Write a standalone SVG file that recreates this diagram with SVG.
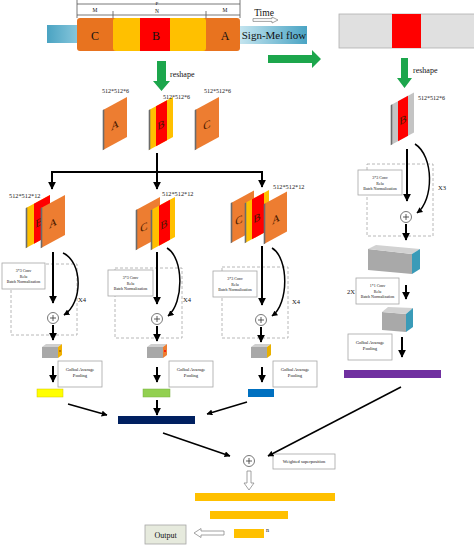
<svg xmlns="http://www.w3.org/2000/svg" width="474" height="545" viewBox="0 0 474 545">
<defs>
<style>
.t{font-family:"Liberation Serif","Times New Roman",serif;fill:#111}
.ln{stroke:#000;stroke-width:2;fill:none}
.th{stroke:#000;stroke-width:1.5;fill:none}
.box{fill:#fff;stroke:#a6a6a6;stroke-width:0.8}
.dash{fill:none;stroke:#a6a6a6;stroke-width:0.8;stroke-dasharray:3 2}
.or{fill:#ed7d31}
.ye{fill:#ffc000}
.re{fill:#ff0000}
.gy{fill:#c4c4c4}
.edge{stroke:#6b6b6b;stroke-width:1.6}
.plus{fill:#fff;stroke:#555;stroke-width:0.8}
.pl{stroke:#333;stroke-width:0.8}
.hollow{fill:#fff;stroke:#8c8c8c;stroke-width:0.8}
.green{fill:#1ca64c}
.let{font-family:"Liberation Serif","Times New Roman",serif;font-size:11px;fill:#4a1a00;text-anchor:middle}
.sm{font-size:4px;text-anchor:middle}
.gp{font-size:4.6px;text-anchor:middle}
.dim{font-size:6px}
</style>
<marker id="ah" viewBox="0 0 10 10" refX="9" refY="5" markerWidth="4" markerHeight="4" orient="auto"><path d="M0,0 L10,5 L0,10 z" fill="#000"/></marker>
<linearGradient id="gL" x1="0" x2="1" y1="0" y2="0"><stop offset="0" stop-color="#4aa3c2"/><stop offset="1" stop-color="#8ac8dd"/></linearGradient>
<linearGradient id="gR" x1="0" x2="1" y1="0" y2="0"><stop offset="0" stop-color="#c3e4ef"/><stop offset="1" stop-color="#4aa4c4"/></linearGradient>
</defs>
<rect width="474" height="545" fill="#fff"/>

<g id="signal">
<rect x="47" y="25" width="32" height="18" fill="url(#gL)"/>
<rect x="240" y="26" width="67" height="18" fill="url(#gR)"/>
<rect x="77" y="18" width="163" height="33" rx="3" fill="#e8731f"/>
<rect x="113" y="18" width="93" height="33" rx="3" class="ye"/>
<rect x="140" y="18" width="30" height="33" class="re"/>
<text x="95" y="40" class="t" font-size="12" text-anchor="middle" fill="#5a0a00">C</text>
<text x="156" y="40" class="t" font-size="12" text-anchor="middle" fill="#5a0a00">B</text>
<text x="225" y="40" class="t" font-size="12" text-anchor="middle" fill="#5a0a00">A</text>
<text x="274" y="39" class="t" font-size="11" text-anchor="middle">Sign-Mel flow</text>
<g stroke="#555" stroke-width="0.8">
<line x1="77" y1="4" x2="240" y2="4"/>
<line x1="77" y1="15" x2="240" y2="15"/>
<line x1="77" y1="0" x2="77" y2="18"/>
<line x1="240" y1="0" x2="240" y2="18"/>
<line x1="113" y1="11" x2="113" y2="18"/>
<line x1="206" y1="11" x2="206" y2="18"/>
</g>
<text x="157" y="4.5" class="t" font-size="5" text-anchor="middle">P</text>
<text x="95" y="12" class="t" font-size="5.5" text-anchor="middle">M</text>
<text x="157" y="12.5" class="t" font-size="5.5" text-anchor="middle">N</text>
<text x="225" y="12" class="t" font-size="5.5" text-anchor="middle">M</text>
<text x="264" y="16" class="t" font-size="9.5" text-anchor="middle">Time</text>
<path d="M253,18.6 H272 V17 L278,20 L272,23 V21.4 H253 Z" class="hollow"/>
</g>

<g id="signal-b">
<rect x="339" y="14" width="136" height="34" fill="#e0e0e0" stroke="#b0b0b0" stroke-width="0.8"/>
<rect x="392" y="14" width="29" height="34" class="re"/>
</g>

<g id="green-arrows">
<path d="M268,55 H312 V50 L321,59 L312,68 V63 H268 Z" class="green"/>
<path d="M157,61 H166 V81 H170 L161.5,91 L153,81 H157 Z" class="green"/>
<path d="M401,58 H408 V78 H412 L404.5,88 L397,78 H401 Z" class="green"/>
<text x="170" y="77" class="t" font-size="8">reshape</text>
<text x="413" y="73" class="t" font-size="8">reshape</text>
</g>

<g id="panels-row1">
<g transform="translate(103,110) skewY(-28.44)">
<rect width="24" height="40" class="or"/><line x1="0.5" y1="0" x2="0.5" y2="40" class="edge"/>
<text x="12" y="25" class="let">A</text></g>
<g transform="translate(149,110) skewY(-28.44)">
<rect width="24" height="40" class="ye"/><rect x="7" width="11" height="40" class="re"/><line x1="0.5" y1="0" x2="0.5" y2="40" class="edge"/>
<text x="12" y="25" class="let">B</text></g>
<g transform="translate(195,110) skewY(-28.44)">
<rect width="24" height="40" class="or"/><line x1="0.5" y1="0" x2="0.5" y2="40" class="edge"/>
<text x="12" y="25" class="let">C</text></g>
<text x="102" y="93" class="t dim">512*512*6</text>
<text x="163" y="99" class="t dim">512*512*6</text>
<text x="204" y="93" class="t dim">512*512*6</text>
</g>

<g id="panel-b-right">
<g transform="translate(391,105) skewY(-28.44)">
<rect width="23" height="40" class="gy"/><rect x="7" width="10" height="40" class="re"/><line x1="0.5" y1="0" x2="0.5" y2="40" class="edge"/>
<text x="12" y="25" class="let">B</text></g>
<text x="418" y="100" class="t dim">512*512*6</text>
</g>

<g id="group-left">
<g transform="translate(26,208) skewY(-28.44)">
<rect width="24" height="40" class="ye"/><rect x="8" width="16" height="40" class="re"/><line x1="0.5" y1="0" x2="0.5" y2="40" class="edge"/>
<text x="13" y="25" class="let">B</text></g>
<g transform="translate(41,208) skewY(-28.44)">
<rect width="24" height="40" class="or"/><line x1="0.5" y1="0" x2="0.5" y2="40" class="edge"/>
<text x="12" y="25" class="let">A</text></g>
<text x="9" y="198" class="t" font-size="6.3">512*512*12</text>
</g>

<g id="group-mid">
<g transform="translate(136,210) skewY(-28.44)">
<rect width="24" height="40" class="or"/><line x1="0.5" y1="0" x2="0.5" y2="40" class="edge"/>
<text x="8" y="25" class="let">C</text></g>
<g transform="translate(151,210) skewY(-28.44)">
<rect width="24" height="40" class="ye"/><rect x="8" width="11" height="40" class="re"/><line x1="0.5" y1="0" x2="0.5" y2="40" class="edge"/>
<text x="13" y="25" class="let">B</text></g>
<text x="162" y="196" class="t" font-size="6.3">512*512*12</text>
</g>

<g id="group-right">
<g transform="translate(231,203) skewY(-28.44)">
<rect width="23" height="40" class="or"/><line x1="0.5" y1="0" x2="0.5" y2="40" class="edge"/>
<text x="8" y="25" class="let">C</text></g>
<g transform="translate(245,203) skewY(-28.44)">
<rect width="24" height="40" class="ye"/><rect x="7" width="12" height="40" class="re"/><line x1="0.5" y1="0" x2="0.5" y2="40" class="edge"/>
<text x="12" y="25" class="let">B</text></g>
<g transform="translate(264,204) skewY(-28.44)">
<rect width="23" height="40" class="or"/><line x1="0.5" y1="0" x2="0.5" y2="40" class="edge"/>
<text x="12" y="25" class="let">A</text></g>
<text x="273" y="189" class="t" font-size="6.3">512*512*12</text>
</g>

<g id="conv-left">
<rect x="11" y="264" width="66" height="71" class="dash"/>
<rect x="2" y="263" width="43" height="26" class="box"/>
<text x="23.5" y="272" class="t sm">3*3 Conv</text>
<text x="23.5" y="277.5" class="t sm">Relu</text>
<text x="23.5" y="283" class="t sm">Batch Normalization</text>
<text x="78" y="302" class="t" font-size="6.5">X4</text>
<circle cx="53" cy="318" r="5.5" class="plus"/>
<line x1="50" y1="318" x2="56" y2="318" class="pl"/><line x1="53" y1="315" x2="53" y2="321" class="pl"/>
</g>

<g id="conv-mid">
<rect x="115" y="268" width="67" height="70" class="dash"/>
<rect x="108" y="270" width="45" height="26" class="box"/>
<text x="130.5" y="279" class="t sm">3*3 Conv</text>
<text x="130.5" y="284.5" class="t sm">Relu</text>
<text x="130.5" y="290" class="t sm">Batch Normalization</text>
<text x="183" y="302" class="t" font-size="6.5">X4</text>
<circle cx="157" cy="319" r="5.5" class="plus"/>
<line x1="154" y1="319" x2="160" y2="319" class="pl"/><line x1="157" y1="316" x2="157" y2="322" class="pl"/>
</g>

<g id="conv-right">
<rect x="222" y="267" width="66" height="71" class="dash"/>
<rect x="213" y="271" width="44" height="26" class="box"/>
<text x="235" y="280" class="t sm">3*3 Conv</text>
<text x="235" y="285.5" class="t sm">Relu</text>
<text x="235" y="291" class="t sm">Batch Normalization</text>
<text x="292" y="304" class="t" font-size="6.5">X4</text>
<circle cx="261" cy="320" r="5.5" class="plus"/>
<line x1="258" y1="320" x2="264" y2="320" class="pl"/><line x1="261" y1="317" x2="261" y2="323" class="pl"/>
</g>

<g id="conv-b">
<rect x="367" y="164" width="66" height="72" class="dash"/>
<rect x="358" y="170" width="44" height="25" class="box"/>
<text x="380" y="179" class="t sm">3*3 Conv</text>
<text x="380" y="184.5" class="t sm">Relu</text>
<text x="380" y="190" class="t sm">Batch Normalization</text>
<text x="438" y="190" class="t" font-size="6.5">X3</text>
<circle cx="406" cy="217" r="5.5" class="plus"/>
<line x1="403" y1="217" x2="409" y2="217" class="pl"/><line x1="406" y1="214" x2="406" y2="220" class="pl"/>
</g>

<g id="cube-left">
<rect x="42" y="347" width="16" height="11" fill="#a8a8a8"/>
<polygon points="42,347 46,344 62,344 58,347" fill="#cfcfcf"/>
<polygon points="58,347 62,344 62,355 58,358" fill="#f0b000"/>
<circle cx="60" cy="351" r="0.8" fill="#803000"/>
</g>
<g id="cube-mid">
<rect x="147" y="347" width="16" height="11" fill="#a8a8a8"/>
<polygon points="147,347 151,344 167,344 163,347" fill="#cfcfcf"/>
<polygon points="163,347 167,344 167,355 163,358" fill="#ed7d31"/>
<circle cx="165" cy="351" r="1" fill="#ff0000"/>
</g>
<g id="cube-right">
<rect x="251" y="347" width="16" height="11" fill="#a8a8a8"/>
<polygon points="251,347 255,344 271,344 267,347" fill="#cfcfcf"/>
<polygon points="267,347 271,344 271,355 267,358" fill="#e8b000"/>
</g>

<g id="pool-left">
<rect x="58" y="361" width="44" height="26" class="box"/>
<text x="80" y="371" class="t gp">Golbal Avarage</text>
<text x="80" y="377" class="t gp">Pooling</text>
</g>
<g id="pool-mid">
<rect x="169" y="361" width="44" height="26" class="box"/>
<text x="191" y="371" class="t gp">Golbal Avarage</text>
<text x="191" y="377" class="t gp">Pooling</text>
</g>
<g id="pool-right">
<rect x="273" y="361" width="44" height="26" class="box"/>
<text x="295" y="371" class="t gp">Golbal Avarage</text>
<text x="295" y="377" class="t gp">Pooling</text>
</g>

<g id="bars">
<rect x="37" y="389" width="26" height="8" fill="#ffff00" stroke="#d4c400" stroke-width="0.5"/>
<rect x="143" y="389" width="27" height="8" fill="#92d050" stroke="#7ab040" stroke-width="0.5"/>
<rect x="248" y="389" width="26" height="8" fill="#0070c0"/>
<rect x="118" y="416" width="77" height="8" fill="#002060"/>
</g>

<g id="cuboid-big">
<polygon points="368,249 412,254 412,274 368,270" fill="#a9a9a9"/>
<polygon points="368,249 376,245 420,249 412,254" fill="#d2d2d2"/>
<polygon points="412,254 420,249 420,269 412,274" fill="#3a9bb8"/>
</g>
<g id="conv-1x1">
<rect x="356" y="278" width="43" height="26" class="box"/>
<text x="377.5" y="287" class="t sm">1*1 Conv</text>
<text x="377.5" y="292.5" class="t sm">Relu</text>
<text x="377.5" y="298" class="t sm">Batch Normalization</text>
<text x="347" y="294" class="t" font-size="6.5">2X</text>
</g>
<g id="cuboid-small">
<polygon points="382,312 406,314 406,332 382,330" fill="#a9a9a9"/>
<polygon points="382,312 388,307 413,308 406,314" fill="#d2d2d2"/>
<polygon points="406,314 413,308 413,327 406,332" fill="#3a9bb8"/>
</g>
<g id="pool-b">
<rect x="348" y="334" width="44" height="26" class="box"/>
<text x="370" y="344" class="t gp">Golbal Avarage</text>
<text x="370" y="350" class="t gp">Pooling</text>
</g>
<rect id="bar-purple" x="344" y="370" width="97" height="8" fill="#7030a0"/>

<g id="fusion">
<circle cx="249" cy="461" r="5.5" class="plus"/>
<line x1="246" y1="461" x2="252" y2="461" class="pl"/><line x1="249" y1="458" x2="249" y2="464" class="pl"/>
<rect x="273" y="454" width="62" height="15" class="box"/>
<text x="304" y="463" class="t" font-size="4.5" text-anchor="middle">Weighted superposition</text>
<path d="M247,471 H251 V483 H254 L249,490 L244,483 H247 Z" class="hollow"/>
</g>

<g id="out-bars">
<rect x="195" y="493" width="140" height="8" fill="#ffc000"/>
<rect x="210" y="511" width="78" height="8" fill="#ffc000"/>
<rect x="234" y="529" width="30" height="9" fill="#ffc000"/>
<text x="266" y="532" class="t" font-size="6">n</text>
</g>
<g id="output">
<path d="M224,531 H201 V528.5 L194,533 L201,537.5 V535 H224 Z" class="hollow"/>
<rect x="145" y="525" width="41" height="19" fill="#e6eadd" stroke="#a6a6a6" stroke-width="0.8"/>
<text x="165.5" y="537.5" class="t" font-size="8" text-anchor="middle">Output</text>
</g>

<g id="connectors">
<line x1="157" y1="153" x2="157" y2="172" class="ln"/>
<line x1="52" y1="172" x2="263" y2="172" class="ln"/>
<line x1="52" y1="171" x2="52" y2="189" class="ln" marker-end="url(#ah)"/>
<line x1="157" y1="171" x2="157" y2="189" class="ln" marker-end="url(#ah)"/>
<line x1="262" y1="171" x2="262" y2="187" class="ln" marker-end="url(#ah)"/>

<line x1="53" y1="252" x2="53" y2="303" class="ln" marker-end="url(#ah)"/>
<path d="M63,253 C83,262 83,303 64,315" class="th" marker-end="url(#ah)"/>
<line x1="53" y1="325" x2="53" y2="340" class="ln" marker-end="url(#ah)"/>
<line x1="53" y1="366" x2="53" y2="382" class="ln" marker-end="url(#ah)"/>

<line x1="157" y1="252" x2="157" y2="304" class="ln" marker-end="url(#ah)"/>
<path d="M167,248 C184,258 184,303 168,316" class="th" marker-end="url(#ah)"/>
<line x1="157" y1="326" x2="157" y2="341" class="ln" marker-end="url(#ah)"/>
<line x1="157" y1="367" x2="157" y2="382" class="ln" marker-end="url(#ah)"/>
<line x1="157" y1="400" x2="157" y2="415" class="ln" marker-end="url(#ah)"/>

<line x1="262" y1="246" x2="262" y2="305" class="ln" marker-end="url(#ah)"/>
<path d="M272,248 C289,258 289,304 272,316" class="th" marker-end="url(#ah)"/>
<line x1="261" y1="327" x2="261" y2="342" class="ln" marker-end="url(#ah)"/>
<line x1="262" y1="367" x2="262" y2="382" class="ln" marker-end="url(#ah)"/>

<line x1="407" y1="149" x2="407" y2="201" class="ln" marker-end="url(#ah)"/>
<path d="M415,144 C434,156 434,200 417,213" class="th" marker-end="url(#ah)"/>
<line x1="406" y1="224" x2="406" y2="240" class="ln" marker-end="url(#ah)"/>
<line x1="406" y1="285" x2="406" y2="299" class="ln" marker-end="url(#ah)"/>
<line x1="402" y1="337" x2="402" y2="357" class="ln" marker-end="url(#ah)"/>

<line x1="68" y1="404" x2="107" y2="415" class="th" marker-end="url(#ah)"/>
<line x1="247" y1="402" x2="207" y2="414" class="th" marker-end="url(#ah)"/>
<line x1="163" y1="433" x2="230" y2="456" class="th" marker-end="url(#ah)"/>
<line x1="401" y1="387" x2="268" y2="456" class="th" marker-end="url(#ah)"/>
</g>
</svg>
